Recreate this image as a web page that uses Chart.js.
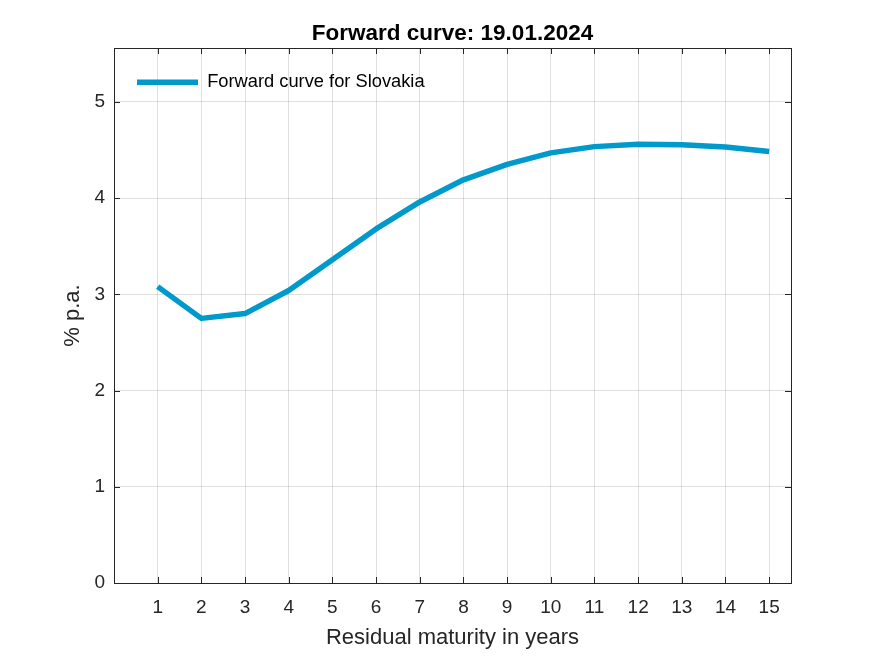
<!DOCTYPE html>
<html>
<head>
<meta charset="utf-8">
<script src="https://cdn.jsdelivr.net/npm/chart.js@4"></script>
<style>
  html, body { margin: 0; padding: 0; background: #fff; }
  #wrap { width: 875px; height: 656px; }
</style>
</head>
<body>
<div id="wrap"><canvas id="fwdChart" width="875" height="656"></canvas></div>
<script>
//数据
var maturities = [1, 2, 3, 4, 5, 6, 7, 8, 9, 10, 11, 12, 13, 14, 15];
var forwardRates = [3.08, 2.75, 2.80, 3.04, 3.36, 3.68, 3.96, 4.19, 4.35, 4.47, 4.535, 4.56, 4.555, 4.53, 4.485];
var xTickValues = [1, 2, 3, 4, 5, 6, 7, 8, 9, 10, 11, 12, 13, 14, 15];
var yTickValues = [0, 1, 2, 3, 4, 5];
var seriesLabel = "Forward curve for Slovakia";
var chartTitle = "Forward curve: 19.01.2024";

var axisColor = "#262626";
var lineColor = "#0099cc";
var fontFamily = "'Liberation Sans', Arial, Helvetica, sans-serif";

//边框和向内刻度 (MATLAB 风格)
var boxPlugin = {
    id: "boxTicks",
    afterLayout: function (chart) {
        //图例放在绘图区内部左上角
        var lg = chart.legend;
        if (lg) {
            lg.top = chart.chartArea.top + 2;
            lg.bottom = chart.chartArea.bottom;
        }
    },
    afterDraw: function (chart) {
        var ctx = chart.ctx;
        var a = chart.chartArea;
        var xs = chart.scales.x;
        var ys = chart.scales.y;
        var len = 6;
        ctx.save();
        ctx.strokeStyle = axisColor;
        ctx.lineWidth = 1;
        ctx.beginPath();
        xs.ticks.forEach(function (t) {
            var px = Math.round(xs.getPixelForValue(t.value)) + 0.5;
            ctx.moveTo(px, a.bottom); ctx.lineTo(px, a.bottom - len);
            ctx.moveTo(px, a.top); ctx.lineTo(px, a.top + len);
        });
        ys.ticks.forEach(function (t) {
            var py = Math.round(ys.getPixelForValue(t.value)) + 0.5;
            ctx.moveTo(a.left, py); ctx.lineTo(a.left + len, py);
            ctx.moveTo(a.right, py); ctx.lineTo(a.right - len, py);
        });
        ctx.stroke();
        ctx.strokeRect(Math.round(a.left) + 0.5, Math.round(a.top) + 0.5,
            Math.round(a.right - a.left), Math.round(a.bottom - a.top));
        ctx.restore();
    }
};

function initChart() {
    var points = maturities.map(function (m, i) {
        return {x: m, y: forwardRates[i]};
    });
    var ctx = document.getElementById("fwdChart").getContext("2d");
    new Chart(ctx, {
        type: "line",
        data: {
            datasets: [
                {
                    label: seriesLabel,
                    data: points,
                    borderColor: lineColor,
                    backgroundColor: lineColor,
                    borderWidth: 5.5,
                    borderJoinStyle: "round",
                    pointRadius: 0,
                    pointHoverRadius: 0,
                    tension: 0
                }
            ]
        },
        options: {
            responsive: false,
            animation: false,
            events: [],
            layout: {padding: {left: 30, right: 84, top: 0, bottom: 0}},
            plugins: {
                title: {display: false},
                tooltip: {enabled: false},
                legend: {
                    position: "chartArea",
                    align: "start",
                    labels: {
                        usePointStyle: true,
                        pointStyle: "line",
                        pointStyleWidth: 61,
                        padding: 23,
                        color: "#000",
                        font: {family: fontFamily, size: 18.3}
                    }
                }
            },
            scales: {
                x: {
                    type: "linear",
                    position: "bottom",
                    min: 0,
                    max: 15.5,
                    afterBuildTicks: function (scale) {
                        scale.ticks = xTickValues.map(function (v) { return {value: v}; });
                    },
                    afterFit: function (scale) { scale.height = 73; },
                    ticks: {
                        stepSize: 1,
                        padding: 13,
                        maxRotation: 0,
                        autoSkip: false,
                        color: axisColor,
                        font: {family: fontFamily, size: 19}
                    },
                    grid: {color: "rgba(38,38,38,0.15)", drawTicks: false},
                    border: {display: false},
                    title: {
                        display: true,
                        text: "Residual maturity in years",
                        color: axisColor,
                        padding: {top: 0, bottom: 5},
                        font: {family: fontFamily, size: 22}
                    }
                },
                xTop: {
                    type: "linear",
                    position: "top",
                    min: 0,
                    max: 15.5,
                    afterFit: function (scale) { scale.height = 48; },
                    ticks: {display: false},
                    grid: {display: false},
                    border: {display: false},
                    title: {
                        display: true,
                        text: chartTitle,
                        color: "#000",
                        padding: {top: 20, bottom: 0},
                        font: {family: fontFamily, size: 22.5, weight: "bold"}
                    }
                },
                y: {
                    type: "linear",
                    min: 0,
                    max: 5.56,
                    afterBuildTicks: function (scale) {
                        scale.ticks = yTickValues.map(function (v) { return {value: v}; });
                    },
                    afterFit: function (scale) { scale.width = 84; },
                    ticks: {
                        stepSize: 1,
                        padding: 9,
                        color: axisColor,
                        font: {family: fontFamily, size: 19}
                    },
                    grid: {color: "rgba(38,38,38,0.15)", drawTicks: false},
                    border: {display: false},
                    title: {
                        display: true,
                        text: "% p.a.",
                        color: axisColor,
                        padding: {top: 30, bottom: 0},
                        font: {family: fontFamily, size: 22}
                    }
                }
            }
        },
        plugins: [boxPlugin]
    });
}

initChart();
</script>
</body>
</html>
